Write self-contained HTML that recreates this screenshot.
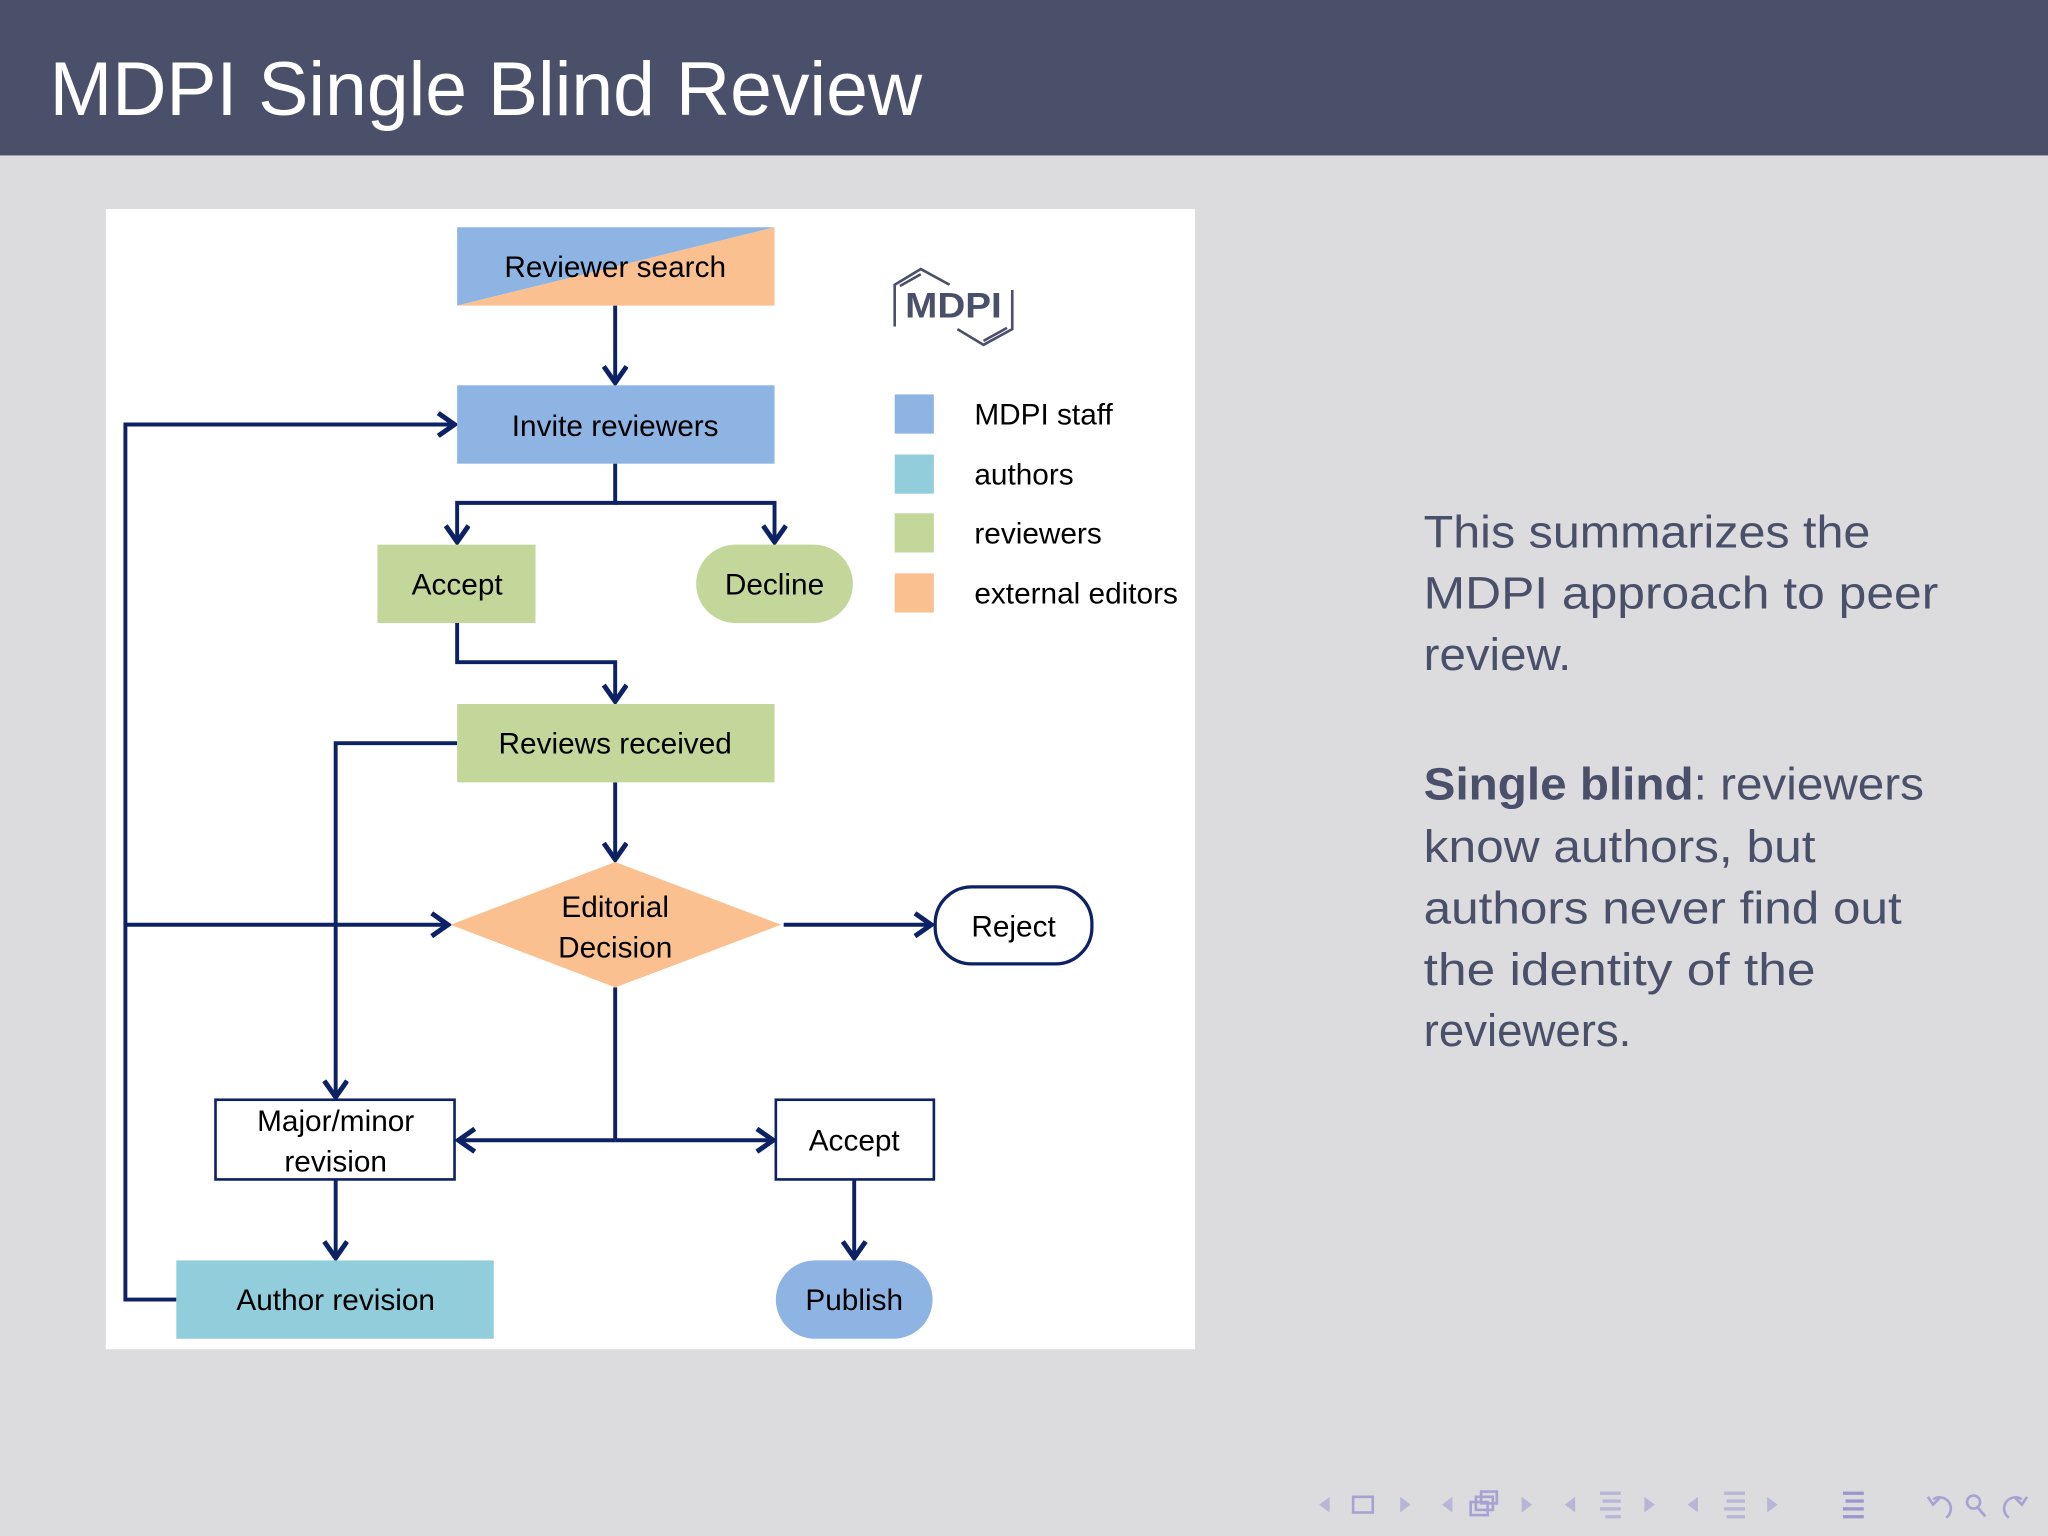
<!DOCTYPE html>
<html><head><meta charset="utf-8"><style>
html,body{margin:0;padding:0;background:#dcdbde;}
svg{display:block;}
</style></head><body>
<svg width="2048" height="1536" viewBox="0 0 1568 1176" xmlns="http://www.w3.org/2000/svg" font-family="Liberation Sans, DejaVu Sans, sans-serif">
<defs>
<marker id="ar" markerWidth="20" markerHeight="20" viewBox="-12 -8 14 16" refX="0" refY="0" orient="auto" markerUnits="userSpaceOnUse">
<path d="M-10,-7 L0,0 L-10,7" fill="none" stroke="#0c2264" stroke-width="3"/>
</marker>
</defs>
<rect x="0" y="0" width="1568" height="1176" fill="#dcdbde"/>
<rect x="0" y="0" width="1568" height="119" fill="#4a5069"/>
<text x="38" y="88" font-size="58" fill="#ffffff" textLength="668" lengthAdjust="spacingAndGlyphs">MDPI Single Blind Review</text>

<rect x="81" y="160" width="834" height="873" fill="#ffffff"/>

<g stroke="#0c2264" stroke-width="3" fill="none">
<line x1="471" y1="234" x2="471" y2="293" marker-end="url(#ar)"/>
<polyline points="471,355 471,385 350,385 350,415" marker-end="url(#ar)"/>
<polyline points="471,385 593,385 593,415" marker-end="url(#ar)"/>
<polyline points="350,477 350,507 471,507 471,537" marker-end="url(#ar)"/>
<line x1="471" y1="599" x2="471" y2="658" marker-end="url(#ar)"/>
<polyline points="350,569 257,569 257,840" marker-end="url(#ar)"/>
<polyline points="135,995 96,995 96,325 348,325" marker-end="url(#ar)"/>
<line x1="96" y1="708" x2="343" y2="708" marker-end="url(#ar)"/>
<line x1="600" y1="708" x2="713" y2="708" marker-end="url(#ar)"/>
<line x1="471" y1="756" x2="471" y2="873"/>
<line x1="471" y1="873" x2="351" y2="873" marker-end="url(#ar)"/>
<line x1="471" y1="873" x2="592" y2="873" marker-end="url(#ar)"/>
<line x1="257" y1="903" x2="257" y2="963" marker-end="url(#ar)"/>
<line x1="654" y1="903" x2="654" y2="963" marker-end="url(#ar)"/>
</g>

<polygon points="350,174 593,174 350,234" fill="#8eb4e3"/>
<polygon points="593,174 593,234 350,234" fill="#fac08f"/>
<rect x="350" y="295" width="243" height="60" fill="#8eb4e3"/>
<rect x="289" y="417" width="121" height="60" fill="#c4d79b"/>
<rect x="533" y="417" width="120" height="60" rx="30" fill="#c4d79b"/>
<rect x="350" y="539" width="243" height="60" fill="#c4d79b"/>
<polygon points="471,660 598,708 471,756 345,708" fill="#fac08f"/>
<rect x="716" y="679" width="120" height="59" rx="28" fill="#ffffff" stroke="#0c2264" stroke-width="2.5"/>
<rect x="165" y="842" width="183" height="61" fill="#ffffff" stroke="#0c2264" stroke-width="2"/>
<rect x="594" y="842" width="121" height="61" fill="#ffffff" stroke="#0c2264" stroke-width="2"/>
<rect x="135" y="965" width="243" height="60" fill="#92cddc"/>
<rect x="594" y="965" width="120" height="60" rx="30" fill="#8eb4e3"/>

<g font-size="22.8" fill="#000" text-anchor="middle">
<text x="471" y="212">Reviewer search</text>
<text x="471" y="334">Invite reviewers</text>
<text x="350" y="455">Accept</text>
<text x="593" y="455">Decline</text>
<text x="471" y="577">Reviews received</text>
<text x="471" y="702">Editorial</text>
<text x="471" y="733">Decision</text>
<text x="776" y="717">Reject</text>
<text x="257" y="866">Major/minor</text>
<text x="257" y="897">revision</text>
<text x="654" y="881">Accept</text>
<text x="257" y="1003">Author revision</text>
<text x="654" y="1003">Publish</text>
</g>

<g stroke="#4a5069" stroke-width="2" fill="none">
<polyline points="685,250 685,218 705,206 727,218"/>
<line x1="689" y1="219" x2="705" y2="210"/>
<polyline points="775,222 775,252 753,264 733,252"/>
<line x1="771" y1="251" x2="753" y2="261"/>
</g>
<text x="730" y="243" font-size="27" font-weight="bold" fill="#4a5069" text-anchor="middle" textLength="74" lengthAdjust="spacingAndGlyphs">MDPI</text>

<rect x="685" y="302" width="30" height="30" fill="#8eb4e3"/>
<rect x="685" y="348" width="30" height="30" fill="#92cddc"/>
<rect x="685" y="393" width="30" height="30" fill="#c4d79b"/>
<rect x="685" y="439" width="30" height="30" fill="#fac08f"/>
<g font-size="22.8" fill="#000">
<text x="746" y="325">MDPI staff</text>
<text x="746" y="371">authors</text>
<text x="746" y="416">reviewers</text>
<text x="746" y="462">external editors</text>
</g>

<g font-size="35" fill="#4a5069">
<text x="1090" y="419" textLength="342" lengthAdjust="spacingAndGlyphs">This summarizes the</text>
<text x="1090" y="466" textLength="394" lengthAdjust="spacingAndGlyphs">MDPI approach to peer</text>
<text x="1090" y="513" textLength="113" lengthAdjust="spacingAndGlyphs">review.</text>
<text x="1090" y="612" textLength="383" lengthAdjust="spacingAndGlyphs"><tspan font-weight="bold">Single blind</tspan>:  reviewers</text>
<text x="1090" y="660" textLength="300" lengthAdjust="spacingAndGlyphs">know authors, but</text>
<text x="1090" y="707" textLength="366" lengthAdjust="spacingAndGlyphs">authors never find out</text>
<text x="1090" y="754" textLength="300" lengthAdjust="spacingAndGlyphs">the identity of the</text>
<text x="1090" y="801" textLength="159" lengthAdjust="spacingAndGlyphs">reviewers.</text>
</g>

<g fill="#b8b6d6" stroke="none">
<polygon points="1018,1146 1010,1152 1018,1158"/>
<polygon points="1072,1146 1080,1152 1072,1158"/>
<polygon points="1112,1146 1104,1152 1112,1158"/>
<polygon points="1165,1146 1173,1152 1165,1158"/>
<polygon points="1206,1146 1198,1152 1206,1158"/>
<polygon points="1259,1146 1267,1152 1259,1158"/>
<polygon points="1300,1146 1292,1152 1300,1158"/>
<polygon points="1353,1146 1361,1152 1353,1158"/>
<rect x="1225" y="1142" width="16" height="2.5"/><rect x="1227" y="1148" width="14" height="2.5"/><rect x="1225" y="1154" width="16" height="2.5"/><rect x="1229" y="1160" width="12" height="2.5"/>
<rect x="1320" y="1142" width="16" height="2.5"/><rect x="1322" y="1148" width="14" height="2.5"/><rect x="1320" y="1154" width="16" height="2.5"/><rect x="1322" y="1160" width="14" height="2.5"/>
<rect x="1411" y="1142" width="16" height="2.5" fill="#9a97cc"/><rect x="1413" y="1148" width="14" height="2.5" fill="#9a97cc"/><rect x="1411" y="1154" width="16" height="2.5" fill="#9a97cc"/><rect x="1411" y="1160" width="16" height="2.5" fill="#9a97cc"/>
</g>
<g fill="none" stroke="#a6a3d2" stroke-width="2">
<rect x="1036" y="1146" width="15" height="12"/>
<rect x="1126" y="1150" width="13" height="10"/><rect x="1130" y="1146" width="13" height="10"/><rect x="1134" y="1142" width="12" height="9"/>
<path d="M1480,1148 A8,8 0 1 1 1490,1162"/><polyline points="1476,1146 1480,1152 1485,1147"/>
<circle cx="1511" cy="1150" r="5"/><line x1="1514" y1="1154" x2="1520" y2="1161"/>
<path d="M1548,1148 A8,8 0 1 0 1538,1162"/><polyline points="1552,1146 1548,1152 1543,1147"/>
</g>
</svg>
</body></html>
